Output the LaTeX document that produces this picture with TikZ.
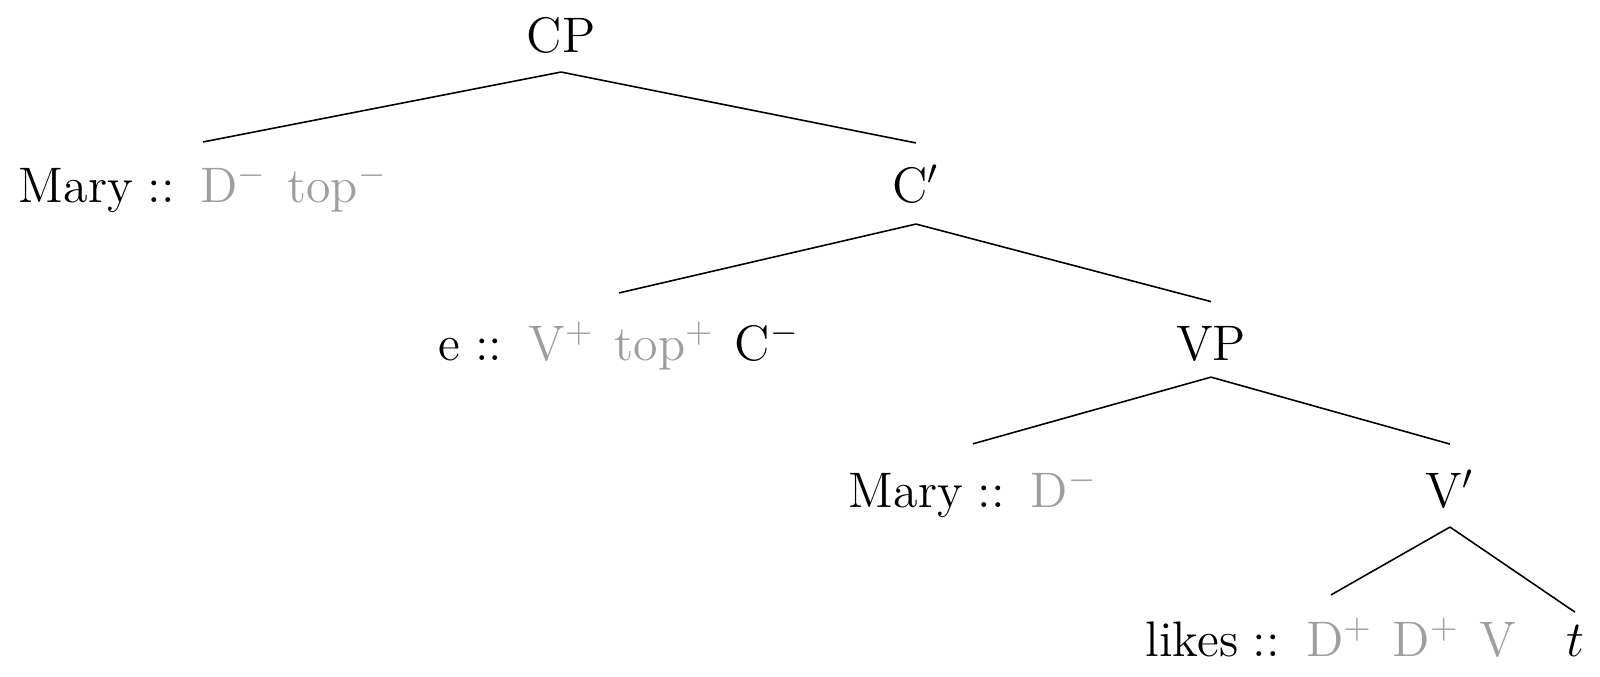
\documentclass[tikz,border=0pt]{standalone}
\usepackage{xcolor}
\definecolor{feat}{gray}{0.62}
\newcommand\treenodefont{\fontsize{14.2}{17}\selectfont\spaceskip=5.8pt plus 1pt minus 0.5pt\relax}
\newcommand\dcolon{\hspace{4.2pt}::}
\begin{document}
\begin{tikzpicture}[x=0.01cm,y=-0.01cm,
  tn/.style={anchor=base, inner sep=5.69pt, outer sep=0pt, font=\treenodefont},
  br/.style={line width=0.45pt}]
\useasboundingbox (0,0) rectangle (1600,677);
\node[tn] (cp) at (561,53) {CP};
\node[tn] (m1) at (203,203) {Mary\dcolon{} \textcolor{feat}{D$^{-}$ top$^{-}$}};
\node[tn] (cb) at (916,203) {C$'$};
\node[tn] (e) at (619,361) {e\dcolon{} \textcolor{feat}{V$^{+}$ top$^{+}$} C$^{-}$};
\node[tn] (vp) at (1211,361) {VP};
\node[tn] (m2) at (973,508) {Mary\dcolon{} \textcolor{feat}{D$^{-}$}};
\node[tn] (vb) at (1450,508) {V$'$};
\node[tn] (lk) at (1331,657) {likes\dcolon{} \textcolor{feat}{D$^{+}$ D$^{+}$ V}};
\node[tn] (t) at (1575,657) {$t$};
\draw[br] ([yshift=0.57pt]cp.south) -- ([yshift=0.6pt]m1.north);
\draw[br] ([yshift=0.57pt]cp.south) -- ([yshift=0.6pt]cb.north);
\draw[br] (cb.south) -- ([yshift=2.6pt]e.north);
\draw[br] (cb.south) -- ([yshift=1.5pt]vp.north);
\draw[br] ([yshift=1.4pt]vp.south) -- ([yshift=1.5pt]m2.north);
\draw[br] ([yshift=1.4pt]vp.south) -- ([yshift=1.7pt]vb.north);
\draw[br] ([yshift=0.57pt]vb.south) -- ([yshift=0.9pt]lk.north);
\draw[br] ([yshift=0.57pt]vb.south) -- ([yshift=-1.8pt]t.north);
\end{tikzpicture}
\end{document}
